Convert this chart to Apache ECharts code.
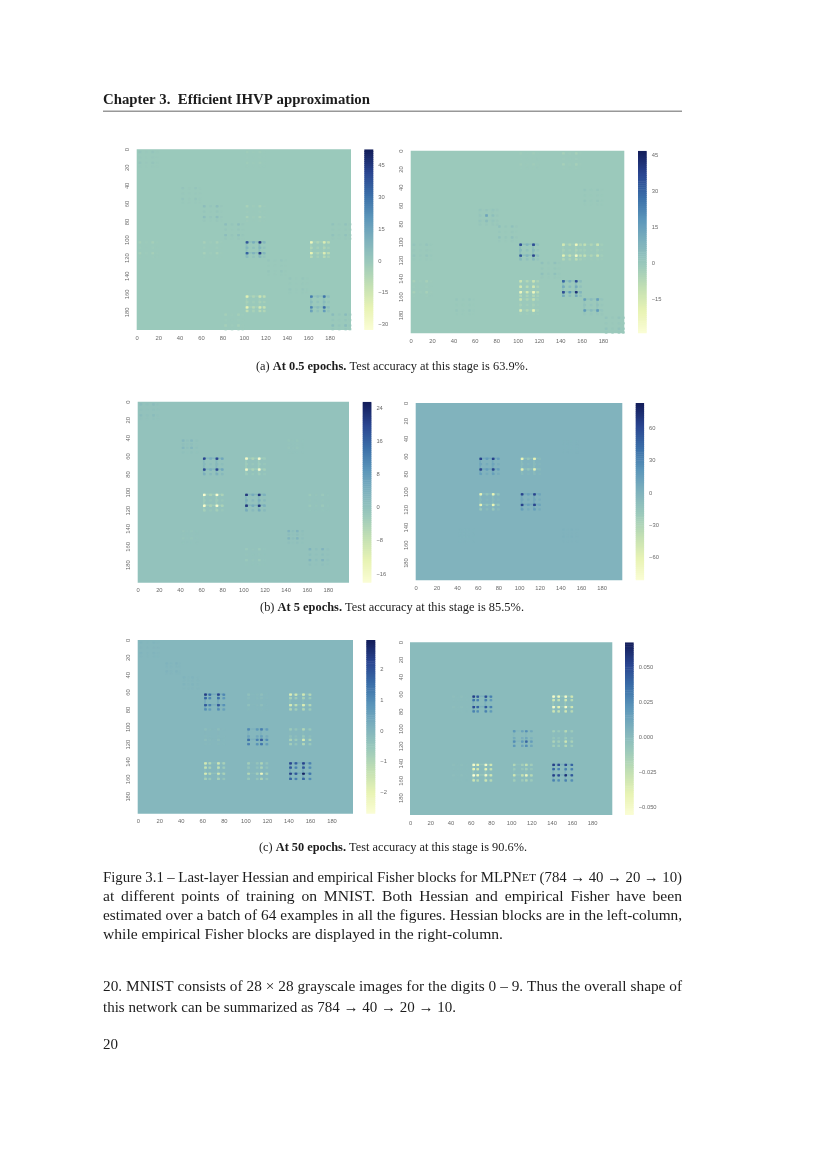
<!DOCTYPE html>
<html><head><meta charset="utf-8">
<script src="https://cdn.jsdelivr.net/npm/echarts@6/dist/echarts.min.js"></script>
<style>html,body{margin:0;padding:0;background:#fff}#c{width:827px;height:1169px;filter:blur(0.55px)}</style>
</head><body><div id="c"></div>
<script>
// ---------- colour ramp ----------
const ramp = ['#fbfdd6','#e8f3b4','#c3e0b3','#9ccabb','#7fb2bd','#5c96ba','#3a6ea8','#2a4590','#131d5a'];

// ---------- colour-bar ranges and ticks ----------
const rangeA1 = [-32.5, 52.5], ticksA1 = [-30,-15,0,15,30,45];
const rangeA2 = [-28.9, 47],   ticksA2 = [-15,0,15,30,45];
const rangeB1 = [-18.1, 25.5], ticksB1 = [-16,-8,0,8,16,24];
const rangeB2 = [-81.5, 84],   ticksB2 = [-60,-30,0,30,60];
const rangeC1 = [-2.68, 2.95], ticksC1 = [-2,-1,0,1,2];
const rangeC2 = [-0.0556,0.0676], ticksC2 = [-0.05,-0.025,0,0.025,0.05];

// ---------- spot index groups, keyed by block start ----------
const groupsStd = {0:[2,8,14,18],40:[42,48,54,58],60:[62,68,74,78],62:[64,70,76,80],80:[82,88,94,98],100:[102,108,114,118],120:[122,128,134,138],140:[142,148,154,158],160:[162,168,174,178],180:[182,188,194,198]};
const groupsB   = {0:[2,8,14,18],40:[42,46,50,55],60:[62,68,74,79],100:[102,108,114,119],140:[142,146,150,155],160:[162,168,174,179]};
const groupsC   = {0:[2,8,14,18],20:[26,30,35,38],40:[42,46,50,55],60:[62,66,74,79],100:[102,110,114,119],140:[141,146,153,159]};

// ---------- blocks: [row block, column block, peak value or 4x4 values] ----------
const blocksA1 = [
 [0,0,2],[40,40,2],[60,60,5],[60,100,-4],[100,60,-3.5],[100,0,-3],[0,100,-1.5],
 [80,80,5],[80,180,3],[180,80,-3],[120,120,1.5],[140,140,1.5],[180,180,6],
 [100,100,[[38,12,46,8],[8,4,8,3],[34,10,44,8],[6,3,6,2]]],
 [100,160,[[-24,-6,-18,-10],[-6,-3,-6,-3],[-22,-6,-18,-10],[-8,-3,-8,-4]]],
 [160,100,[[-20,-6,-14,-10],[-4,-2,-4,-3],[-22,-8,-16,-12],[-10,-4,-8,-6]]],
 [160,160,[[28,6,30,5],[6,3,6,2],[26,6,32,5],[16,4,18,3]]]
];
const blocksA2 = [
 [0,100,-1.5],[0,140,-3],[100,0,2],[140,0,-3],[40,160,1.5],[160,40,1.5],[120,120,3.5],[80,80,3.5],[180,180,2.5],
 [62,62,[[2,2,2,1],[2,14,4,1],[2,5,2,1],[1,1,1,1]]],
 [100,100,[[36,8,36,4],[6,3,6,2],[34,8,38,5],[6,3,6,2]]],
 [100,140,[[-14,-6,-22,-6],[-3,-2,-4,-2],[-18,-10,-24,-8],[-6,-4,-8,-3]]],
 [100,160,[[-10,-5,-12,-2],[-2,-1,-2,-1],[-10,-5,-12,-2],[-1,-1,-1,-1]]],
 [140,100,[[-12,-6,-12,-4],[-14,-8,-14,-4],[-22,-14,-22,-8],[-6,-4,-6,-3]]],
 [140,140,[[30,10,36,5],[12,6,12,3],[36,18,42,8],[12,5,12,4]]],
 [160,100,[[-12,-5,-10,-2],[-3,-2,-3,-1],[-16,-6,-20,-2],[-1,-1,-1,-1]]],
 [160,160,[[16,5,16,2],[3,2,3,1],[18,6,18,2],[1,1,1,1]]]
];
const blocksB1 = [
 [0,0,1.5],[40,40,2.5],[40,140,-0.7],[140,40,-0.7],[140,140,3.5],[160,160,3.5],[100,160,-1.5],[160,100,-1.5],
 [60,60,[[20,4,20,6],[2,1,2,1],[20,4,20,6],[4,2,4,2]]],
 [60,100,[[-16,-4,-17,-2],[-2,-1,-2,-1],[-16,-4,-17,-3],[-2,-1,-2,-1]]],
 [100,60,[[-17,-4,-17,-4],[-2,-1,-2,-1],[-16,-4,-17,-4],[-3,-1,-3,-1]]],
 [100,100,[[22,5,22,4],[4,2,4,2],[22,5,22,4],[5,2,5,2]]]
];
const blocksB2 = [
 [40,140,-0.5],[140,40,-0.5],[140,140,1.2],
 [60,60,[[65,16,65,16],[10,6,10,5],[65,16,65,16],[14,6,14,6]]],
 [60,100,[[-62,-14,-62,-5],[-6,-3,-6,-2],[-60,-14,-62,-5],[-5,-2,-5,-2]]],
 [100,60,[[-62,-14,-62,-14],[-6,-3,-6,-3],[-60,-14,-62,-14],[-18,-6,-18,-6]]],
 [100,100,[[65,14,65,11],[8,5,8,5],[65,14,65,11],[16,6,16,6]]]
];
const blocksC1 = [
 [0,0,0.07],[20,20,0.1],[40,40,0.08],
 [60,60,[[2.4,1.6,2.3,1.1],[1.7,1.1,1.5,0.8],[1.9,1.2,2,0.9],[1,0.7,1,0.6]]],
 [60,100,[[-0.3,-0.08,-0.25,-0.04],[-0.14,-0.07,-0.14,-0.04],[-0.3,-0.08,-0.25,-0.04],[-0.07,-0.04,-0.07,-0.04]]],
 [60,140,[[-1.8,-1.5,-1.6,-1],[-0.8,-0.6,-0.8,-0.5],[-1.7,-1.2,-1.8,-1],[-1,-0.7,-1,-0.6]]],
 [100,60,[[-0.2,-0.07,-0.2,-0.04],[-0.07,-0.04,-0.07,-0.04],[-0.2,-0.07,-0.2,-0.04],[-0.07,-0.04,-0.07,-0.04]]],
 [100,100,[[1.1,0.8,1.3,0.7],[0.5,0.4,0.6,0.3],[1.5,1.2,1.9,1],[1.2,0.9,1.4,0.7]]],
 [100,140,[[-0.6,-0.4,-1,-0.5],[-0.3,-0.2,-0.5,-0.2],[-0.9,-0.6,-1.7,-0.9],[-0.7,-0.4,-1,-0.5]]],
 [140,60,[[-1.6,-1,-1.5,-0.8],[-1.3,-0.8,-1.2,-0.6],[-1.7,-1,-1.5,-0.8],[-0.8,-0.5,-0.8,-0.4]]],
 [140,100,[[-0.7,-0.4,-0.9,-0.4],[-0.4,-0.3,-0.8,-0.3],[-1,-0.7,-2.2,-0.8],[-0.5,-0.4,-0.9,-0.4]]],
 [140,140,[[2.3,1.8,2.3,1.2],[1.9,1.2,1.9,1],[2.4,1.9,2.9,1.4],[1.7,1.2,1.7,1]]]
];
const blocksC2 = [
 [140,40,-0.002],[60,40,-0.002],
 [60,60,[[0.055,0.045,0.05,0.03],[0.035,0.03,0.03,0.02],[0.05,0.04,0.045,0.03],[0.03,0.025,0.03,0.02]]],
 [60,140,[[-0.05,-0.045,-0.05,-0.03],[-0.03,-0.025,-0.03,-0.02],[-0.05,-0.04,-0.05,-0.03],[-0.03,-0.025,-0.03,-0.02]]],
 [100,100,[[0.02,0.015,0.025,0.012],[0.01,0.008,0.012,0.006],[0.025,0.02,0.04,0.018],[0.02,0.014,0.025,0.012]]],
 [100,140,[[-0.012,-0.008,-0.02,-0.01],[-0.006,-0.004,-0.01,-0.005],[-0.016,-0.012,-0.03,-0.015],[-0.012,-0.01,-0.018,-0.01]]],
 [140,60,[[-0.05,-0.04,-0.05,-0.03],[-0.04,-0.03,-0.04,-0.025],[-0.055,-0.045,-0.05,-0.03],[-0.03,-0.02,-0.03,-0.02]]],
 [140,100,[[-0.018,-0.012,-0.025,-0.012],[-0.008,-0.006,-0.012,-0.006],[-0.03,-0.025,-0.045,-0.02],[-0.012,-0.01,-0.018,-0.01]]],
 [140,140,[[0.055,0.05,0.05,0.04],[0.04,0.03,0.03,0.03],[0.055,0.05,0.06,0.045],[0.03,0.025,0.03,0.025]]]
];

// ---------- panels: pixel frames ----------
const panels = [
 {blocks:blocksA1,groups:groupsStd,range:rangeA1,ticks:ticksA1,dec:0,x0:136.7,x1:351,y0:149.3,y1:330,cx:364.3,cw:9},
 {blocks:blocksA2,groups:groupsStd,range:rangeA2,ticks:ticksA2,dec:0,x0:410.7,x1:624.3,y0:150.7,y1:333.3,cx:638,cw:8.7},
 {blocks:blocksB1,groups:groupsB,range:rangeB1,ticks:ticksB1,dec:0,x0:137.7,x1:349,y0:401.7,y1:582.7,cx:362.7,cw:8.7},
 {blocks:blocksB2,groups:groupsB,range:rangeB2,ticks:ticksB2,dec:0,x0:415.7,x1:622.3,y0:403,y1:580.3,cx:635.7,cw:8.4},
 {blocks:blocksC1,groups:groupsC,range:rangeC1,ticks:ticksC1,dec:0,x0:137.7,x1:353,y0:640,y1:813.7,cx:366.3,cw:9},
 {blocks:blocksC2,groups:groupsC,range:rangeC2,ticks:ticksC2,dec:3,x0:410,x1:612.3,y0:642.3,y1:815,cx:625,cw:8.7}
];
const cats = []; for (let i=0;i<200;i++) cats.push(String(i));
const spotWeights = [1,0.3,1,0.2];
const linkShare = 0.12;   // faint lines joining the peaks of a strong block

function cells(p){
  const links=[],spots=[];
  p.blocks.forEach(([r,c,m])=>{
    const R=p.groups[r],C=p.groups[c];
    if(Array.isArray(m)){
      [0,2].forEach(i=>{for(let x=C[0];x<=C[3];x++)links.push([x,R[i],m[i][0]*linkShare]);});
      [0,2].forEach(j=>{for(let y=R[0];y<=R[3];y++)links.push([C[j],y,m[0][j]*linkShare]);});
    }
    R.forEach((ri,i)=>C.forEach((ci,j)=>{
      const v = Array.isArray(m) ? m[i][j] : m*spotWeights[i]*spotWeights[j];
      [0,1].forEach(dr=>[0,1].forEach(dc=>spots.push([ci+dc,ri+dr,v])));
    }));
  });
  return links.concat(spots);
}
const lab = {color:'#6a6a6a',fontSize:5.8,fontFamily:'Liberation Sans'};
const grid=[],xAxis=[],yAxis=[],series=[],visualMap=[];
panels.forEach((p,i)=>{
  const zero = echarts.color.lerp((0-p.range[0])/(p.range[1]-p.range[0]), ramp);
  grid.push({left:p.x0,top:p.y0,width:p.x1-p.x0,height:p.y1-p.y0,show:true,backgroundColor:zero,borderWidth:0,containLabel:false});
  xAxis.push({type:'category',gridIndex:i,data:cats,axisLine:{show:false},axisTick:{show:false},splitLine:{show:false},
    axisLabel:Object.assign({interval:19,margin:5},lab)});
  yAxis.push({type:'category',gridIndex:i,data:cats,inverse:true,axisLine:{show:false},axisTick:{show:false},splitLine:{show:false},
    axisLabel:Object.assign({interval:19,rotate:90,margin:6},lab)});
  series.push({type:'heatmap',xAxisIndex:i,yAxisIndex:i,data:cells(p),silent:true,progressive:0,animation:false,itemStyle:{borderWidth:0}});
  visualMap.push({type:'continuous',show:false,seriesIndex:i,dimension:2,min:p.range[0],max:p.range[1],inRange:{color:ramp}});
});
panels.forEach((p,i)=>{
  const k=6+i,lo=p.range[0],hi=p.range[1],n=90,levels=[];
  for(let s=0;s<n;s++)levels.push([lo+(hi-lo)*s/n,lo+(hi-lo)*(s+1)/n]);
  grid.push({left:p.cx,top:p.y0,width:p.cw,height:p.y1-p.y0,containLabel:false,show:false});
  xAxis.push({type:'value',gridIndex:k,show:false,min:0,max:1});
  yAxis.push({type:'value',gridIndex:k,position:'right',min:lo,max:hi,axisLine:{show:false},axisTick:{show:false},splitLine:{show:false},
    axisLabel:Object.assign({margin:5,customValues:p.ticks,formatter:v=>(p.dec?(+v).toFixed(p.dec):String(+v)).replace('-','\u2212')},lab)});
  series.push({type:'custom',xAxisIndex:k,yAxisIndex:k,data:levels,silent:true,animation:false,clip:true,
    renderItem:(params,api)=>{
      const a=api.coord([0,api.value(1)]),b=api.coord([1,api.value(0)]);
      const mid=(api.value(0)+api.value(1))/2;
      return {type:'rect',shape:{x:a[0],y:a[1],width:b[0]-a[0],height:b[1]-a[1]+0.6},
        style:{fill:echarts.color.lerp((mid-lo)/(hi-lo),ramp)}};
    }});
});

// ---------- page text ----------
const serif='Liberation Serif';
const ctx=document.createElement('canvas').getContext('2d');
function tw(t,size,w){ctx.font=(w||'normal')+' '+size+'px "'+serif+'"';return ctx.measureText(t).width;}
const L=103,R=682,body=14.6,cap=12.6;
const bodyFit=(503-L)/tw('while empirical Fisher blocks are displayed in the right-column.',body);
const ink='#1c1c1c';
const g=[];
function line(segs,x,y,size,targetW){
  let w=0,txt='';
  segs.forEach(([t,k])=>{w+=tw(t,size,k==='b'?'bold':'normal');txt+='{'+(k||'n')+'|'+t+'}';});
  g.push({type:'text',x:x,y:y,scaleX:targetW/w,silent:true,style:{text:txt,fill:ink,verticalAlign:'middle',align:'left',
    rich:{n:{fontFamily:serif,fontSize:size,fill:ink},b:{fontFamily:serif,fontSize:size,fontWeight:'bold',fill:ink}}}});
}
function justified(segs,y,squeeze){
  const small=body*0.78,fit=bodyFit*(squeeze||1);
  const parts=[];
  segs.forEach(([t,k])=>{ if(k==='s'){parts.push({t,k});return;}
    t.split(' ').forEach((w,i)=>{ if(i)parts.push({gap:1}); if(w)parts.push({t:w,k:'n'}); }); });
  let w=0,gaps=0;
  parts.forEach(q=>{ if(q.gap)gaps++; else w+=tw(q.t,q.k==='s'?small:body); });
  const gap=((R-L)/fit-w)/gaps;
  const txt=parts.map(q=>q.gap?'{g| }':'{'+q.k+'|'+q.t+'}').join('');
  g.push({type:'text',x:L,y:y,scaleX:fit,silent:true,style:{text:txt,fill:ink,verticalAlign:'middle',align:'left',
    rich:{n:{fontFamily:serif,fontSize:body,fill:ink},s:{fontFamily:serif,fontSize:small,fill:ink},g:{fontFamily:serif,fontSize:body,width:gap}}}});
}
line([['Chapter 3.  Efficient IHVP approximation','b']],L,100.5,15,267);
g.push({type:'rect',shape:{x:L,y:110.8,width:R-L,height:0.6},style:{fill:'#333'},silent:true});
line([['(a) '],['At 0.5 epochs.','b'],[' Test accuracy at this stage is 63.9%.']],256,367,cap,272);
line([['(b) '],['At 5 epochs.','b'],[' Test accuracy at this stage is 85.5%.']],260,608,cap,264);
line([['(c) '],['At 50 epochs.','b'],[' Test accuracy at this stage is 90.6%.']],259,848,cap,268);
justified([['Figure 3.1 \u2013 Last-layer Hessian and empirical Fisher blocks for MLPN'],['ET','s'],[' (784 \u2192 40 \u2192 20 \u2192 10)']],878.5,0.95);
justified([['at different points of training on MNIST. Both Hessian and empirical Fisher have been']],897.5);
justified([['estimated over a batch of 64 examples in all the figures. Hessian blocks are in the left-column,']],916.5,0.98);
line([['while empirical Fisher blocks are displayed in the right-column.']],L,935.5,body,503-L);
justified([['20. MNIST consists of 28 \u00d7 28 grayscale images for the digits 0 \u2013 9. Thus the overall shape of']],987.5,0.98);
line([['this network can be summarized as 784 \u2192 40 \u2192 20 \u2192 10.']],L,1008,body,456-L);
line([['20']],L,1045.5,body,15);

const chart=echarts.init(document.getElementById('c'),null,{renderer:'canvas'});
chart.setOption({animation:false,backgroundColor:'#fff',grid,xAxis,yAxis,series,visualMap,graphic:g});
</script></body></html>
